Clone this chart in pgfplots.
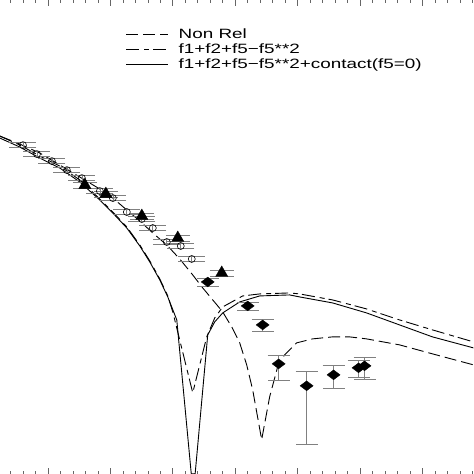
\documentclass[border=0pt]{standalone}
\usepackage{fontspec}
\setmainfont{Liberation Sans}
\newfontfamily\legfont[FakeStretch=1.4]{Liberation Sans}
\usepackage{pgfplots}
\pgfplotsset{compat=1.18}

\begin{document}
\begin{tikzpicture}
\begin{axis}[
  width=474pt, height=474pt, scale only axis,
  xmin=0, xmax=474, ymin=0, ymax=474, y dir=reverse,
  axis line style={draw=none},
  xtick={-14.5,48,110.5,173,235.5,298,360.5,423,485.5},
  minor x tick num=4,
  xticklabels={},
  xticklabel style={overlay},
  ytick=\empty,
  tick align=inside,
  major tick length=6pt, minor tick length=3pt,
  tick style={black!60, line width=0.6pt},
  legend cell align=left,
  legend image code/.code={\draw[#1] (0pt,0pt) -- (42pt,0pt);},
  legend style={draw=none, fill=none, at={(axis cs:126,27)}, anchor=north west,
    inner sep=0pt, outer sep=0pt,
    font=\legfont\fontsize{13.5}{15}\selectfont, row sep=0pt, column sep=8pt,
    nodes={text height=9pt, text depth=2pt, inner sep=2pt}},
]
% Non Rel
\addplot[black, line width=0.9pt, dash pattern=on 12pt off 5pt] coordinates {
(0,136) (20,144) (40,153) (60,165) (80,177) (100,189) (113,198) (127,210)
(140,221) (153,233) (167,245) (180,259) (193,275) (203,288) (213,300)
(223,312) (232,327) (240,343) (247,365) (253,390) (262,440) (270,397)
(278,367) (285,355) (297,343) (313,339) (333,337) (350,337) (367,339)
(400,345) (433,354) (474,365)};
\addlegendentry{Non Rel}
% f1+f2+f5-f5**2
\addplot[black, line width=0.9pt, dash pattern=on 13pt off 5pt on 5pt off 4pt] coordinates {
(0,136) (20,145) (40,156) (60,166) (80,180) (100,199) (113,212) (127,227)
(140,245) (150,261) (160,279) (168,296) (173,312) (193,393) (207,337)
(215,318) (223,307) (243,296) (260,294) (290,293) (300,294) (333,300)
(367,309) (400,320) (433,330) (474,342)};
\addlegendentry{f1+f2+f5−f5**2}
% f1+f2+f5-f5**2+contact(f5=0)
\addplot[black, line width=0.9pt] coordinates {
(0,138) (20,147) (40,158) (60,168) (80,182) (100,200) (113,213) (127,228)
(140,246) (150,262) (160,280) (168,297) (177,320) (191.5,474) (195.4,474)
(208,335) (215,322) (223,313) (240,302) (260,296) (290,295) (300,297)
(333,303) (367,313) (400,325) (433,337) (474,348)};
\addlegendentry{f1+f2+f5−f5**2+contact(f5=0)}

% open circles
\addplot[forget plot, only marks, mark=o, mark size=3.5pt,
  mark options={fill=white, draw=black, line width=0.6pt},
  error bars/.cd, y dir=both, y explicit,
  error bar style={black!50, line width=0.7pt},
  error mark options={black!50, line width=0.7pt, mark size=13.5pt, rotate=90}]
  table[x index=0, y index=1, y error index=2] {
23 145 2.5
37 154 2.5
52 161 2.5
67 170 2.5
82 178 2.5
100 191 2.5
113 198 2.5
127 212 2.5
142 219 2.5
153 228 2.5
167 242 2.5
181 246 2.5
192 259 2.5
};
% triangles
\addplot[forget plot, only marks, mark=triangle*, mark size=7pt,
  mark options={fill=black, draw=black},
  error bars/.cd, y dir=both, y explicit,
  error bar style={black!50, line width=0.7pt},
  error mark options={black!50, line width=0.7pt, mark size=12pt, rotate=90}]
  table[x index=0, y index=1, y error index=2] {
85 185 3
106 194 3
142 216 3
178 238 3
222 273 3
};
% diamonds
\addplot[forget plot, only marks, mark=diamond*, mark size=6.5pt,
  mark options={fill=black, draw=black, rotate=90},
  error bars/.cd, y dir=both, y explicit,
  error bar style={black!50, line width=0.7pt},
  error mark options={black!50, line width=0.7pt, mark size=11pt, rotate=90}]
  table[x index=0, y index=1, y error plus index=2, y error minus index=3] {
208 282 4 4
248 306 4 4
263 325 6 6
279 364 17 9
307 386 59 14
334 375 14 9
359 368 10 7
365 366 14 9
};
\end{axis}
\end{tikzpicture}
\end{document}
